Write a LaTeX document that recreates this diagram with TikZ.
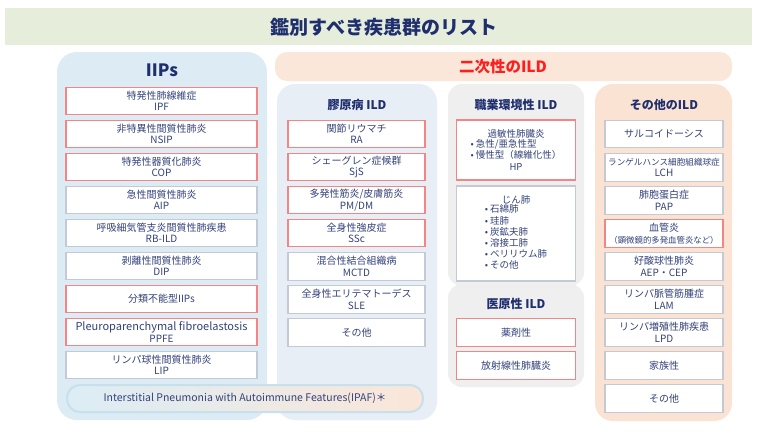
\documentclass[tikz,border=0pt]{standalone}
\usepackage{fontspec}
\setmainfont{Noto Sans CJK JP}
\definecolor{navy}{HTML}{1F2F6E}
\definecolor{boxtxt}{HTML}{33427A}
\definecolor{redbd}{HTML}{F28585}
\definecolor{graybd}{HTML}{C3CAD6}
\definecolor{bandbg}{HTML}{E6EDDA}
\definecolor{iipsbg}{HTML}{DCEBF4}
\definecolor{secbg}{HTML}{FBE7DA}
\definecolor{kogenbg}{HTML}{E8EEF6}
\definecolor{shokubg}{HTML}{EFEFF0}
\definecolor{otherbg}{HTML}{FBE3D4}
\definecolor{redtxt}{HTML}{FF1E1E}
\definecolor{ipafL}{HTML}{DCEDF5}
\definecolor{ipafR}{HTML}{FBE6D8}
\definecolor{ipafbd}{HTML}{C6E0EC}
\tikzset{
  bx/.style={draw=graybd, line width=1.1pt, fill=white, minimum height=27.5pt,
    inner sep=0pt, align=center, text=boxtxt, font=\fontsize{10}{11.5}\selectfont},
  rb/.style={bx, draw=redbd, line width=1.3pt},
  wI/.style={minimum width=191pt},
  wK/.style={minimum width=137pt},
  wS/.style={minimum width=119pt},
  wO/.style={minimum width=118pt},
  ptitle/.style={text=navy, font=\fontsize{12}{14}\selectfont\bfseries},
}
\begin{document}
\begin{tikzpicture}[x=1pt,y=-1pt]
\useasboundingbox[fill=white] (0,0) rectangle (768,432);
% title band
\fill[bandbg] (5,8) rectangle (752,45);
\node[text=navy, font=\fontsize{19}{21}\selectfont\bfseries] (title) at (384,27) {鑑別すべき疾患群のリスト};
% panels
\fill[iipsbg, rounded corners=20pt] (57,52) rectangle (267,420);
\fill[secbg, rounded corners=12pt] (275,52) rectangle (732,81);
\fill[kogenbg, rounded corners=18pt] (277,84) rectangle (437,420);
\fill[shokubg, rounded corners=14pt] (448,84) rectangle (584,286);
\fill[shokubg, rounded corners=14pt] (448,284) rectangle (584,387);
\fill[otherbg, rounded corners=18pt] (595,84) rectangle (732,421);
% panel titles
\node[text=navy, font=\fontsize{17}{19}\selectfont\bfseries] (tIIP) at (162,70) {IIPs};
\node[text=redtxt, font=\fontsize{15.5}{17}\selectfont\bfseries] (tSec) at (503,67) {二次性のILD};
\node[ptitle] (tKogen) at (357,105) {膠原病 ILD};
\node[ptitle] (tShoku) at (516,105) {職業環境性 ILD};
\node[ptitle] (tIgen) at (516,304) {医原性 ILD};
\node[ptitle] (tOther) at (664,105) {その他のILD};
% IIPs boxes
\node[rb,wI] (ipf)  at (161.5,101) {特発性肺線維症\\IPF};
\node[rb,wI] (nsip) at (161.5,134) {非特異性間質性肺炎\\NSIP};
\node[rb,wI] (cop)  at (161.5,167) {特発性器質化肺炎\\COP};
\node[bx,wI] (aip)  at (161.5,200) {急性間質性肺炎\\AIP};
\node[bx,wI] (rbild) at (161.5,233) {呼吸細気管支炎間質性肺疾患\\RB-ILD};
\node[bx,wI] (dip)  at (161.5,266) {剥離性間質性肺炎\\DIP};
\node[rb,wI] (unc)  at (161.5,299) {分類不能型IIPs};
\node[rb,wI] (ppfe) at (161.5,332) {{\fontsize{11}{11.5}\selectfont Pleuroparenchymal fibroelastosis}\\PPFE};
\node[bx,wI] (lip)  at (161.5,365) {リンパ球性間質性肺炎\\LIP};
% IPAF
\node[draw=ipafbd, line width=2pt, left color=ipafL, right color=ipafR, rounded corners=13pt,
  minimum width=356pt, minimum height=27pt, text=boxtxt, font=\fontsize{10.5}{12}\selectfont] (ipaf)
  at (245,398.5) {Interstitial Pneumonia with Autoimmune Features(IPAF)＊};
% 膠原病
\node[rb,wK] (ra)   at (356.5,134) {関節リウマチ\\RA};
\node[rb,wK] (sjs)  at (356.5,167) {シェーグレン症候群\\SjS};
\node[rb,wK] (pmdm) at (356.5,200) {多発性筋炎/皮膚筋炎\\PM/DM};
\node[rb,wK] (ssc)  at (356.5,233) {全身性強皮症\\SSc};
\node[bx,wK] (mctd) at (356.5,266.5) {混合性結合組織病\\MCTD};
\node[bx,wK] (sle)  at (356.5,299.5) {全身性エリテマトーデス\\SLE};
\node[bx,wK] (kother) at (356.5,332.5) {その他};
% 職業環境性
\node[rb,wS,minimum height=60pt,font=\fontsize{9.5}{10.5}\selectfont] (hp) at (516,150) {過敏性肺臓炎\\
  \begin{tabular}{@{}l@{}}• 急性/亜急性型\\• 慢性型（線維化性）\end{tabular}\\HP};
\node[bx,wS,minimum height=95pt,font=\fontsize{9.5}{10.5}\selectfont] (jin) at (516,233.5) {じん肺\\
  \begin{tabular}{@{}l@{}}• 石綿肺\\• 珪肺\\• 炭鉱夫肺\\• 溶接工肺\\• ベリリウム肺\\• その他\end{tabular}};
% 医原性
\node[rb,wS] (drug) at (516,332.5) {薬剤性};
\node[rb,wS] (rad)  at (516,365.5) {放射線性肺臓炎};
% その他のILD
\node[bx,wO] (sarc) at (664,134) {サルコイドーシス};
\node[bx,wO] (lch)  at (664,167.5) {{\fontsize{8.6}{11.5}\selectfont ランゲルハンス細胞組織球症}\\LCH};
\node[bx,wO] (pap)  at (664,200.5) {肺胞蛋白症\\PAP};
\node[rb,wO] (vasc) at (664,233.5) {血管炎\\{\fontsize{8.4}{11.5}\selectfont （顕微鏡的多発血管炎など）}};
\node[bx,wO] (aep)  at (664,266.5) {好酸球性肺炎\\AEP・CEP};
\node[bx,wO] (lam)  at (664,299.5) {リンパ脈管筋腫症\\LAM};
\node[bx,wO] (lpd)  at (664,332.5) {リンパ増殖性肺疾患\\LPD};
\node[bx,wO] (fam)  at (664,365.5) {家族性};
\node[bx,wO] (oother) at (664,398.5) {その他};
\end{tikzpicture}
\end{document}
